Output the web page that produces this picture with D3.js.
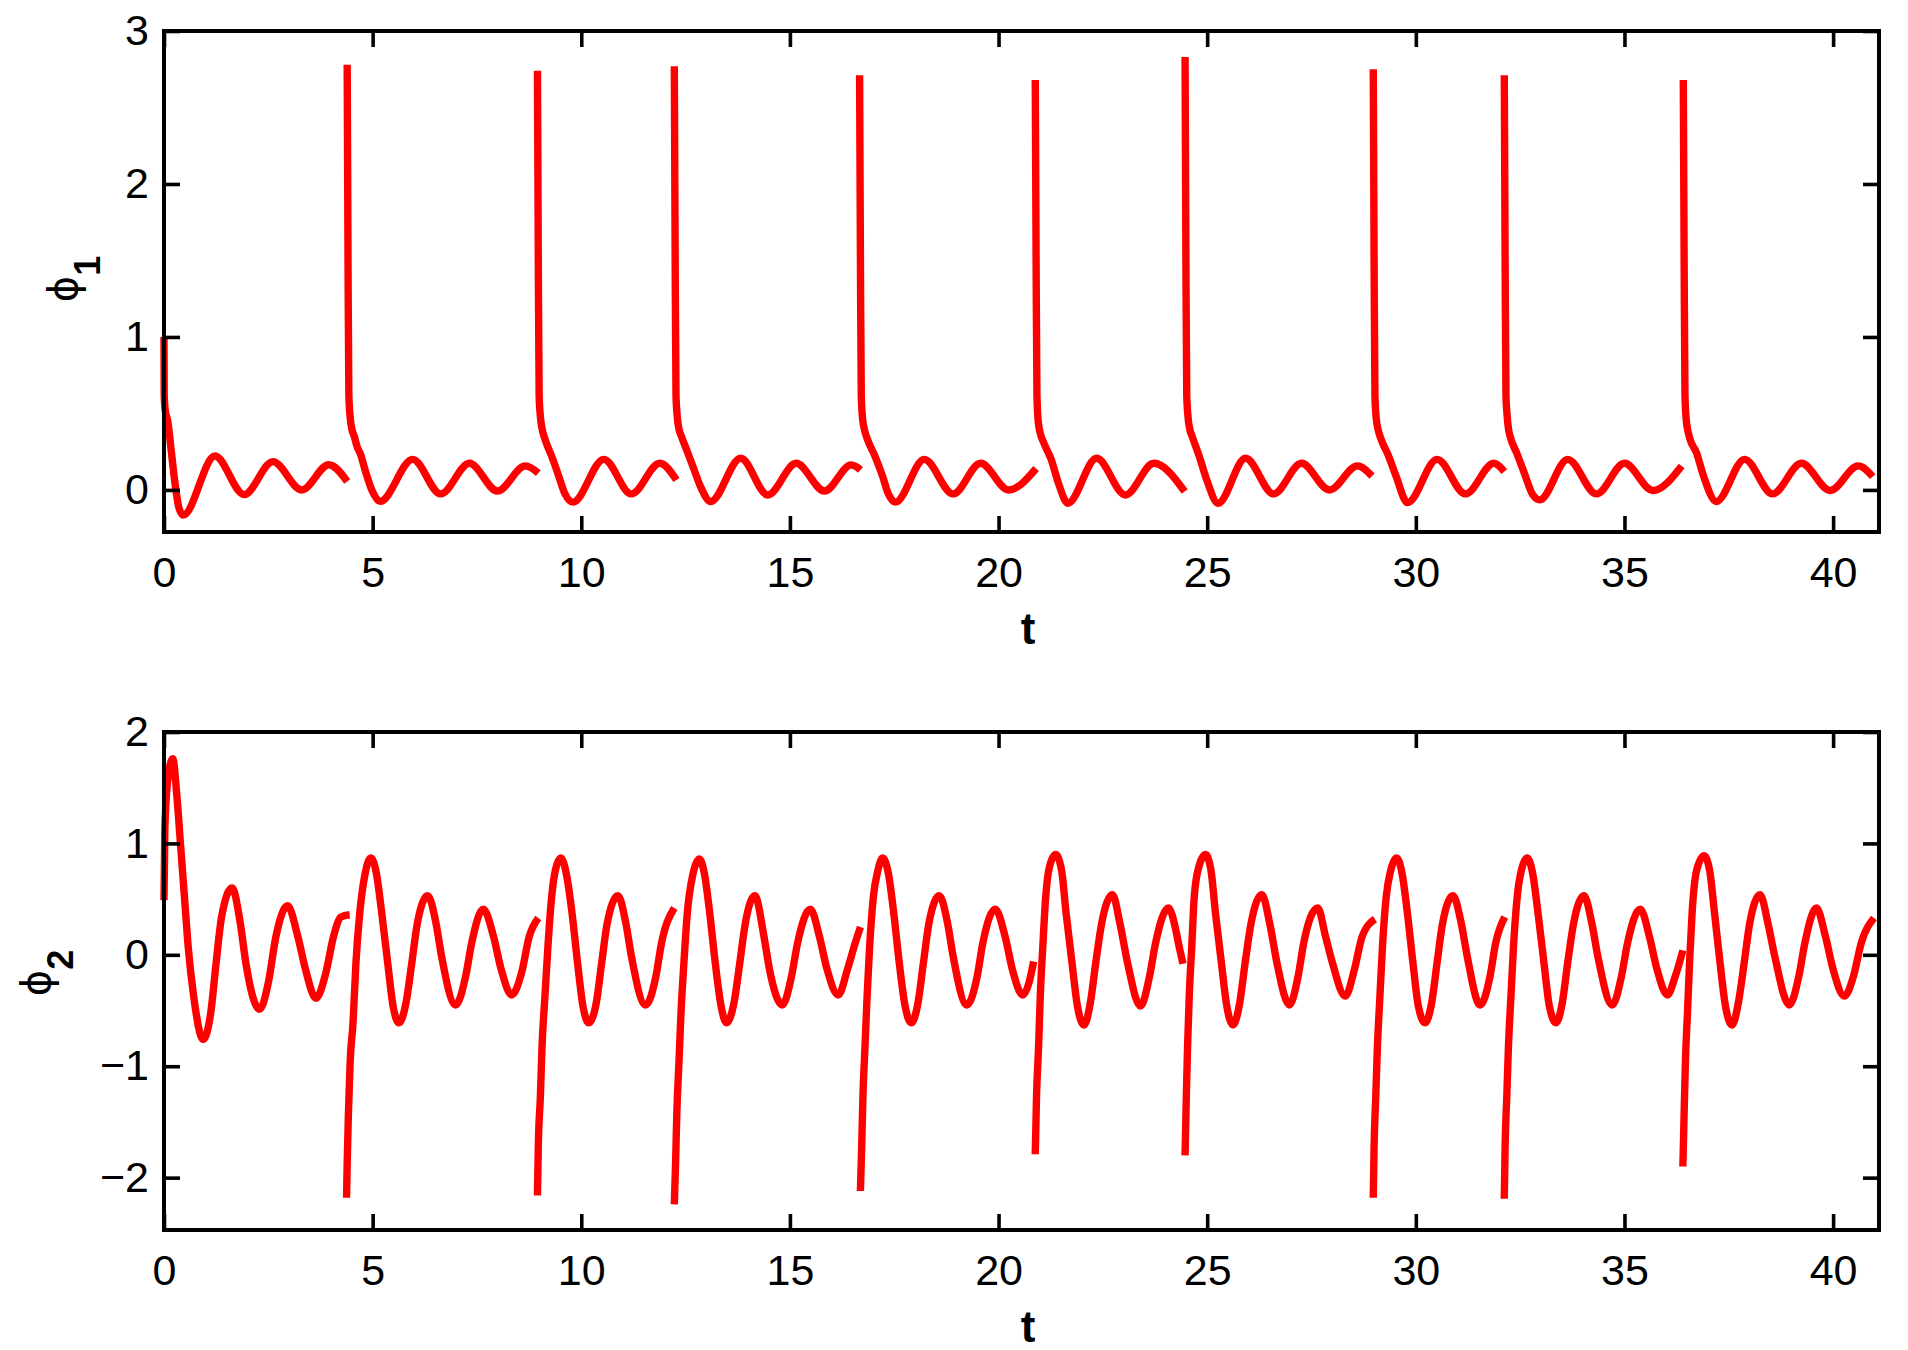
<!DOCTYPE html>
<html>
<head>
<meta charset="utf-8">
<script src="https://cdn.jsdelivr.net/npm/d3@7"></script>
<style>
  html, body { margin: 0; padding: 0; background: #ffffff; }
  svg { display: block; }
  text { font-family: "Liberation Sans", Arial, Helvetica, sans-serif; fill: #000; }
</style>
</head>
<body>
<script>
// ---------------- DATA ----------------
const xTicks = [0, 5, 10, 15, 20, 25, 30, 35, 40];
const yTicksPhi1 = [0, 1, 2, 3];
const yTicksPhi2 = [-2, -1, 0, 1, 2];
const xLabel = "t";

// phi_1(t), one array per continuous segment: [t, value]
const phi1_s1 = [[0,1.0],[0.005,0.62],[0.03,0.52],[0.09,0.45],[0.18,0.24],[0.27,0.03],[0.36,-0.12],[0.46,-0.165],[1.22,0.222],[1.92,-0.03],[2.61,0.185],[3.3,0.0],[3.95,0.165],[4.39,0.055]];
const phi1_s2 = [[4.39,2.78],[4.41,1.5],[4.43,0.62],[4.46,0.48],[4.5,0.4],[4.56,0.35],[4.63,0.28],[4.7,0.24],[4.82,0.13],[4.98,0.0],[5.18,-0.075],[5.96,0.2],[6.63,-0.026],[7.32,0.174],[7.99,-0.007],[8.66,0.157],[8.97,0.11]];
const phi1_s3 = [[8.95,2.74],[8.97,1.5],[8.99,0.62],[9.02,0.48],[9.06,0.4],[9.12,0.34],[9.2,0.28],[9.29,0.22],[9.46,0.09],[9.6,-0.02],[9.8,-0.08],[10.54,0.2],[11.2,-0.026],[11.88,0.174],[12.28,0.065]];
const phi1_s4 = [[12.23,2.77],[12.25,1.5],[12.27,0.62],[12.3,0.48],[12.34,0.4],[12.4,0.35],[12.5,0.28],[12.68,0.15],[12.86,0.02],[13.1,-0.076],[13.82,0.207],[14.47,-0.033],[15.15,0.174],[15.83,-0.007],[16.47,0.164],[16.6,0.15],[16.69,0.13]];
const phi1_s5 = [[16.67,2.71],[16.69,1.5],[16.71,0.62],[16.74,0.47],[16.79,0.39],[16.86,0.33],[17.04,0.22],[17.22,0.09],[17.35,-0.02],[17.53,-0.08],[18.22,0.2],[18.91,-0.026],[19.57,0.174],[20.24,0.0],[20.9,0.14]];
const phi1_s6 = [[20.88,2.68],[20.9,1.5],[20.92,0.62],[20.95,0.45],[21.0,0.37],[21.08,0.31],[21.26,0.2],[21.44,0.04],[21.66,-0.087],[22.35,0.207],[23.04,-0.033],[23.72,0.174],[24.46,-0.01]];
const phi1_s7 = [[24.47,2.83],[24.49,1.5],[24.51,0.62],[24.54,0.48],[24.58,0.4],[24.64,0.35],[24.81,0.22],[24.99,0.065],[25.26,-0.087],[25.92,0.207],[26.59,-0.026],[27.26,0.174],[27.93,0.0],[28.6,0.157],[28.95,0.09]];
const phi1_s8 = [[28.98,2.75],[29.0,1.5],[29.02,0.62],[29.05,0.47],[29.1,0.39],[29.17,0.33],[29.35,0.22],[29.53,0.087],[29.8,-0.083],[30.51,0.2],[31.19,-0.026],[31.87,0.174],[32.12,0.12]];
const phi1_s9 = [[32.12,2.71],[32.14,1.5],[32.16,0.62],[32.19,0.48],[32.22,0.4],[32.26,0.35],[32.42,0.24],[32.6,0.11],[32.8,-0.03],[32.97,-0.065],[33.64,0.2],[34.33,-0.026],[35.0,0.174],[35.68,-0.004],[36.37,0.157]];
const phi1_s10 = [[36.41,2.68],[36.43,1.5],[36.45,0.62],[36.48,0.46],[36.51,0.4],[36.55,0.35],[36.73,0.24],[36.9,0.087],[37.2,-0.076],[37.88,0.2],[38.55,-0.026],[39.24,0.174],[39.93,-0.004],[40.6,0.157],[40.95,0.087]];

// phi_2(t), one array per continuous segment: [t, value]
const phi2_s1 = [[0,0.49],[0.02,1.12],[0.09,1.57],[0.21,1.76],[0.31,1.42],[0.4,0.97],[0.49,0.52],[0.58,0.07],[0.71,-0.37],[0.94,-0.76],[1.12,-0.52],[1.25,-0.07],[1.38,0.34],[1.63,0.6],[1.83,0.28],[1.96,-0.07],[2.29,-0.49],[2.5,-0.25],[2.68,0.16],[2.96,0.44],[3.21,0.16],[3.39,-0.13],[3.64,-0.39],[3.88,-0.16],[4.06,0.16],[4.24,0.34],[4.45,0.36]];
const phi2_s2 = [[4.375,-2.18],[4.39,-1.87],[4.42,-1.42],[4.46,-0.97],[4.53,-0.61],[4.6,-0.07],[4.69,0.37],[4.82,0.73],[4.96,0.87],[5.09,0.73],[5.22,0.37],[5.36,-0.07],[5.49,-0.46],[5.63,-0.61],[5.8,-0.43],[5.94,-0.07],[6.07,0.28],[6.32,0.53],[6.52,0.28],[6.65,-0.01],[6.99,-0.45],[7.23,-0.19],[7.37,0.1],[7.65,0.41],[7.9,0.16],[8.08,-0.13],[8.33,-0.36],[8.57,-0.16],[8.75,0.16],[8.97,0.33]];
const phi2_s3 = [[8.95,-2.16],[8.97,-1.72],[9.02,-1.27],[9.06,-0.82],[9.13,-0.37],[9.2,0.07],[9.29,0.52],[9.38,0.76],[9.51,0.87],[9.64,0.73],[9.78,0.37],[9.91,-0.07],[10.04,-0.46],[10.18,-0.61],[10.36,-0.43],[10.49,-0.07],[10.62,0.28],[10.88,0.53],[11.07,0.28],[11.2,-0.01],[11.54,-0.45],[11.79,-0.19],[11.92,0.1],[12.23,0.42]];
const phi2_s4 = [[12.23,-2.24],[12.26,-1.87],[12.29,-1.42],[12.34,-0.97],[12.39,-0.52],[12.46,-0.07],[12.54,0.37],[12.68,0.73],[12.83,0.86],[12.95,0.73],[13.08,0.37],[13.21,-0.07],[13.35,-0.46],[13.48,-0.61],[13.66,-0.43],[13.8,-0.07],[13.93,0.28],[14.16,0.53],[14.38,0.16],[14.51,-0.13],[14.82,-0.45],[15.04,-0.19],[15.18,0.1],[15.49,0.41],[15.71,0.16],[15.89,-0.13],[16.16,-0.36],[16.38,-0.13],[16.56,0.1],[16.69,0.25]];
const phi2_s5 = [[16.69,-2.12],[16.72,-1.72],[16.75,-1.27],[16.8,-0.82],[16.85,-0.37],[16.91,0.07],[17.0,0.52],[17.11,0.76],[17.22,0.87],[17.36,0.73],[17.49,0.37],[17.62,-0.07],[17.76,-0.46],[17.91,-0.61],[18.07,-0.43],[18.2,-0.07],[18.33,0.28],[18.58,0.53],[18.78,0.28],[18.91,-0.01],[19.24,-0.45],[19.49,-0.19],[19.62,0.1],[19.92,0.41],[20.16,0.16],[20.33,-0.13],[20.58,-0.36],[20.73,-0.25],[20.84,-0.06]];
const phi2_s6 = [[20.88,-1.79],[20.91,-1.27],[20.96,-0.82],[21.0,-0.37],[21.06,0.07],[21.13,0.52],[21.22,0.79],[21.37,0.9],[21.51,0.76],[21.62,0.37],[21.76,-0.07],[21.89,-0.46],[22.05,-0.63],[22.2,-0.43],[22.33,-0.07],[22.47,0.28],[22.73,0.54],[22.91,0.28],[23.09,-0.07],[23.4,-0.46],[23.62,-0.19],[23.76,0.1],[24.07,0.42],[24.25,0.22],[24.33,0.07],[24.42,-0.08]];
const phi2_s7 = [[24.47,-1.8],[24.5,-1.27],[24.53,-0.82],[24.57,-0.37],[24.63,0.07],[24.69,0.52],[24.8,0.79],[24.96,0.9],[25.09,0.76],[25.2,0.37],[25.34,-0.07],[25.47,-0.46],[25.62,-0.63],[25.78,-0.43],[25.91,-0.07],[26.05,0.28],[26.31,0.54],[26.5,0.28],[26.67,-0.07],[26.97,-0.45],[27.18,-0.19],[27.31,0.1],[27.65,0.42],[27.84,0.16],[28.0,-0.07],[28.31,-0.37],[28.53,-0.13],[28.71,0.16],[29.02,0.32]];
const phi2_s8 = [[28.98,-2.18],[29.0,-1.72],[29.04,-1.27],[29.08,-0.82],[29.14,-0.37],[29.2,0.07],[29.29,0.52],[29.4,0.76],[29.54,0.87],[29.67,0.73],[29.8,0.37],[29.93,-0.07],[30.06,-0.46],[30.22,-0.61],[30.38,-0.43],[30.51,-0.07],[30.64,0.28],[30.89,0.53],[31.09,0.28],[31.23,-0.01],[31.54,-0.45],[31.78,-0.19],[31.91,0.1],[32.13,0.34]];
const phi2_s9 = [[32.12,-2.19],[32.14,-1.72],[32.18,-1.27],[32.22,-0.82],[32.28,-0.37],[32.34,0.07],[32.43,0.52],[32.53,0.76],[32.67,0.87],[32.8,0.73],[32.93,0.37],[33.07,-0.07],[33.2,-0.46],[33.36,-0.61],[33.51,-0.43],[33.64,-0.07],[33.78,0.28],[34.03,0.53],[34.22,0.28],[34.36,-0.01],[34.71,-0.45],[34.93,-0.19],[35.07,0.1],[35.38,0.41],[35.6,0.16],[35.78,-0.13],[36.03,-0.36],[36.22,-0.19],[36.4,0.04]];
const phi2_s10 = [[36.4,-1.9],[36.43,-1.42],[36.46,-0.97],[36.51,-0.52],[36.56,-0.07],[36.62,0.37],[36.73,0.76],[36.91,0.89],[37.04,0.76],[37.16,0.37],[37.29,-0.07],[37.42,-0.46],[37.58,-0.63],[37.73,-0.43],[37.87,-0.07],[38.0,0.28],[38.25,0.54],[38.44,0.28],[38.6,-0.01],[38.95,-0.45],[39.18,-0.19],[39.32,0.1],[39.6,0.42],[39.82,0.16],[40.0,-0.13],[40.27,-0.37],[40.49,-0.19],[40.67,0.1],[40.98,0.33]];

const phi1Segments = [phi1_s1, phi1_s2, phi1_s3, phi1_s4, phi1_s5, phi1_s6, phi1_s7, phi1_s8, phi1_s9, phi1_s10];
const phi2Segments = [phi2_s1, phi2_s2, phi2_s3, phi2_s4, phi2_s5, phi2_s6, phi2_s7, phi2_s8, phi2_s9, phi2_s10];

// ---------------- DRAWING ----------------
const W = 1908, H = 1350;
const svg = d3.select("body").append("svg")
  .attr("width", W).attr("height", H)
  .attr("viewBox", `0 0 ${W} ${H}`);
svg.append("rect").attr("width", W).attr("height", H).attr("fill", "#fff");

const LEFT = 164, RIGHT = 1879;
const TICK = 16;

function drawPanel(opt) {
  const x = d3.scaleLinear().domain([0, 41.1]).range([LEFT, RIGHT]);
  const y = d3.scaleLinear().domain(opt.yDomain).range([opt.bottom, opt.top]);
  const g = svg.append("g");

  const line = d3.line()
    .x(d => x(d[0])).y(d => y(d[1]))
    .curve(d3.curveMonotoneX);

  g.append("g").selectAll("path")
    .data(opt.segments)
    .join("path")
    .attr("d", line)
    .attr("fill", "none")
    .attr("stroke", "#ff0000")
    .attr("stroke-width", 7.4)
    .attr("stroke-linejoin", "round")
    .attr("stroke-linecap", "butt");

  const styleAxis = sel => {
    sel.select(".domain").remove();
    sel.selectAll(".tick line").attr("stroke", "#000").attr("stroke-width", 3.6);
    sel.selectAll(".tick text").attr("font-size", 43).attr("fill", "#000")
      .attr("font-family", '"Liberation Sans", Arial, Helvetica, sans-serif');
  };

  g.append("g").attr("transform", `translate(0,${opt.bottom})`)
    .call(d3.axisBottom(x).tickValues(xTicks).tickFormat(d3.format("d")).tickSize(-TICK).tickPadding(24))
    .call(styleAxis);
  g.append("g").attr("transform", `translate(0,${opt.top})`)
    .call(d3.axisTop(x).tickValues(xTicks).tickFormat("").tickSize(-TICK))
    .call(styleAxis);
  g.append("g").attr("transform", `translate(${LEFT},0)`)
    .call(d3.axisLeft(y).tickValues(opt.yTicks).tickFormat(d3.format("d")).tickSize(-TICK).tickPadding(15))
    .call(styleAxis);
  g.append("g").attr("transform", `translate(${RIGHT},0)`)
    .call(d3.axisRight(y).tickValues(opt.yTicks).tickFormat("").tickSize(-TICK))
    .call(styleAxis);

  g.append("rect")
    .attr("x", LEFT).attr("y", opt.top)
    .attr("width", RIGHT - LEFT).attr("height", opt.bottom - opt.top)
    .attr("fill", "none").attr("stroke", "#000").attr("stroke-width", 4);

  g.append("text")
    .attr("x", 1028).attr("y", opt.bottom + 112)
    .attr("text-anchor", "middle")
    .attr("font-size", 44).attr("font-weight", "bold")
    .text(xLabel);

  const yl = g.append("text")
    .attr("transform", `translate(${opt.labelX},${opt.labelY}) rotate(-90)`)
    .attr("text-anchor", "middle");
  yl.append("tspan")
    .attr("font-family", '"DejaVu Sans", sans-serif')
    .attr("font-size", 40)
    .text("\u03D5");
  yl.append("tspan")
    .attr("dy", 23)
    .attr("font-size", 36).attr("font-weight", "bold")
    .text(opt.sub);
}

drawPanel({ top: 31, bottom: 532, yDomain: [-0.275, 3], yTicks: yTicksPhi1,
            segments: phi1Segments, labelX: 77, labelY: 279, sub: "1" });
drawPanel({ top: 732, bottom: 1230, yDomain: [-2.47, 2], yTicks: yTicksPhi2,
            segments: phi2Segments, labelX: 50, labelY: 973, sub: "2" });
</script>
</body>
</html>
